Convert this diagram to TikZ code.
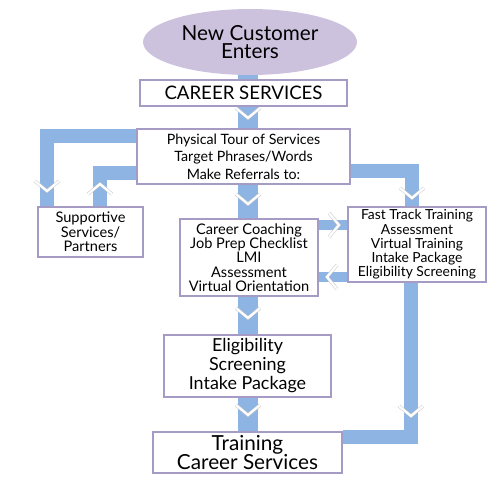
\documentclass[tikz,border=0pt]{standalone}
\usepackage{fontspec}
\setmainfont{Lato}
\usetikzlibrary{calc,shapes.geometric}
\definecolor{barblue}{RGB}{141,180,226}
\definecolor{boxline}{RGB}{165,155,196}
\definecolor{ellfill}{RGB}{204,194,222}
\tikzset{
  box/.style={draw=boxline, line width=0.03cm, fill=white, inner sep=0pt, align=center},
  bar/.style={draw=barblue, line width=0.4cm},
  sidebar/.style={draw=barblue, line width=0.28cm},
  crossbar/.style={draw=barblue, line width=0.2cm},
  chevline/.style={draw=gray!45, double=white, double distance=0.045cm, line width=0.01cm}
}
\def\chevron[#1](#2){\draw[chevline, shift={(#2)}, rotate=#1] (-12,-5) -- (0,5) -- (12,-5);}

\begin{document}
\begin{tikzpicture}[x=0.02cm, y=-0.02cm]
			%%%%% START %%%%%
			\useasboundingbox (0,0) rectangle (495,495);
			
			\node[ellipse, fill=ellfill, inner sep=0pt, minimum width=4.28cm, minimum height=1.32cm, align=center,
			      font=\fontsize{11.8}{10.4}\selectfont] (ell) at (250,42) {New Customer\\Enters};
			\node[box, minimum width=4.14cm, minimum height=0.52cm, font=\fontsize{10.6}{12}\selectfont] (cs) at (243.5,93) {CAREER SERVICES};
			\node[box, minimum width=4.26cm, minimum height=1.10cm, font=\fontsize{8.1}{9.9}\selectfont] (tour) at (243.5,156.5)
			     {Physical Tour of Services\\Target Phrases/Words\\Make Referrals to:};
			\node[box, minimum width=2.10cm, minimum height=1.00cm, font=\fontsize{8.3}{8.3}\selectfont] (supp) at (90.5,232)
			     {Supportive\\Services/\\Partners};
			\node[box, minimum width=2.76cm, minimum height=1.54cm, font=\fontsize{8.3}{8.1}\selectfont] (cc) at (249,257.5)
			     {Career Coaching\\Job Prep Checklist\\LMI\\Assessment\\Virtual Orientation};
			\node[box, minimum width=2.76cm, minimum height=1.50cm, font=\fontsize{7.9}{8.1}\selectfont] (ft) at (417,244.5)
			     {Fast Track Training\\Assessment\\Virtual Training\\Intake Package\\Eligibility Screening};
			\node[box, minimum width=3.34cm, minimum height=1.24cm, font=\fontsize{10.2}{10.8}\selectfont] (elig) at (247.5,366)
			     {Eligibility\\Screening\\Intake Package};
			\node[box, minimum width=3.78cm, minimum height=0.82cm, font=\fontsize{11.8}{11}\selectfont] (train) at (247.5,452.5)
			     {Training\\Career Services};
			
			% centre column
			\coordinate (col) at (248,0);
			\draw[bar] (ell.south -| col) -- (cs.north -| col);
			\draw[bar] (cs.south -| col) -- (tour.north -| col);
			\draw[bar] (tour.south -| col) -- (cc.north -| col);
			\draw[bar] (cc.south -| col) -- (elig.north -| col);
			\draw[bar] (elig.south -| col) -- (train.north -| col);
			
			% loops to the sides
			\coordinate (outL) at (47,135.5);
			\coordinate (inL) at (100,173);
			\coordinate (rtL) at (412,171);
			\coordinate (btR) at (411,437);
			\draw[sidebar] (tour.west |- outL) -| (supp.north -| outL);
			\draw[sidebar] (supp.north -| inL) |- (tour.west |- inL);
			\draw[sidebar] (tour.east |- rtL) -| (ft.north -| rtL);
			\draw[sidebar] (ft.south -| btR) |- (train.east |- btR);
			
			\coordinate (upX) at (0,225);
			\coordinate (loX) at (0,277);
			\draw[crossbar] (cc.east |- upX) -- (ft.west |- upX);
			\draw[crossbar] (ft.west |- loX) -- (cc.east |- loX);
			
			% chevrons
			\chevron[0](248,113)
			\chevron[0](248,199)
			\chevron[0](248,313)
			\chevron[0](248,410)
			\chevron[0](47,186)
			\chevron[180](100,189)
			\chevron[0](412,193)
			\chevron[0](411,411)
			\chevron[90](334,225)
			\chevron[-90](332,277)
			
			%%%%% END %%%%%
		\end{tikzpicture}
\end{document}
